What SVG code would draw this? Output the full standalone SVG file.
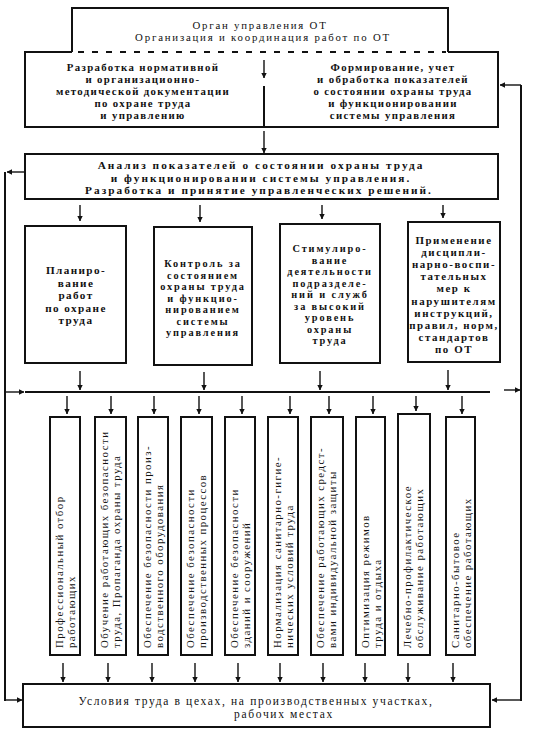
<svg xmlns="http://www.w3.org/2000/svg" width="533" height="729" viewBox="0 0 533 729">
<defs>
<marker id="ah" viewBox="0 0 8 8" refX="7.5" refY="4" markerWidth="4" markerHeight="4.5" markerUnits="strokeWidth" orient="auto">
<path d="M0,0 L8,4 L0,8 z" fill="#111"/>
</marker>
<style>
.box{fill:#fff;stroke:#111;stroke-width:2}
.ln{fill:none;stroke:#111;stroke-width:2}
.arr{fill:none;stroke:#111;stroke-width:1.4;marker-end:url(#ah)}
.t{font-family:"Liberation Serif","Times New Roman",serif;fill:#111}
.b{font-weight:bold}
.c{text-anchor:middle}
.top{font-size:10.8px;letter-spacing:1.8px}
.doc{font-size:10.8px;letter-spacing:1.35px}
.an{font-size:11.3px;letter-spacing:2.05px}
.p1{font-size:11.2px;letter-spacing:1.4px}
.p2{font-size:10.3px;letter-spacing:1.88px}
.p4{font-size:10.9px;letter-spacing:1.57px}
.v{font-size:10.8px;letter-spacing:1.47px}
.bot{font-size:11.5px;letter-spacing:1.66px}
</style>
</defs>
<rect width="533" height="729" fill="#fff"/>

<g id="connectors">
<path class="arr" d="M264,60 V78"/>
<path class="arr" d="M264,131 V153"/>
<path class="arr" d="M80,205 V221"/>
<path class="arr" d="M200,205 V222"/>
<path class="arr" d="M322,205 V219"/>
<path class="arr" d="M443,205 V218"/>
<path class="arr" d="M80,371 V390"/>
<path class="arr" d="M204,372 V390"/>
<path class="arr" d="M320,371 V390"/>
<path class="arr" d="M448,370 V390"/>
<path class="ln" d="M25,392 H490"/>
<path class="arr" d="M67,396 V414"/>
<path class="arr" d="M111,396 V414"/>
<path class="arr" d="M154,396 V414"/>
<path class="arr" d="M199,396 V414"/>
<path class="arr" d="M242,396 V414"/>
<path class="arr" d="M290,396 V414"/>
<path class="arr" d="M329,396 V414"/>
<path class="arr" d="M373,396 V414"/>
<path class="arr" d="M416,396 V411"/>
<path class="arr" d="M462,396 V414"/>
<path class="arr" d="M63,663 V682"/>
<path class="arr" d="M108,663 V682"/>
<path class="arr" d="M152,663 V682"/>
<path class="arr" d="M195,663 V682"/>
<path class="arr" d="M238,663 V682"/>
<path class="arr" d="M280,663 V682"/>
<path class="arr" d="M323,663 V682"/>
<path class="arr" d="M365,663 V682"/>
<path class="arr" d="M408,663 V682"/>
<path class="arr" d="M453,663 V682"/>
<path class="ln" d="M5,172 V701"/>
<path class="arr" d="M25,172 H7"/>
<path class="arr" d="M5,392 H24"/>
<path class="arr" d="M5,700 H22"/>
<path class="ln" d="M521,85 V701"/>
<path class="arr" d="M521,85 H500"/>
<path class="arr" d="M504,390 H520"/>
<path class="arr" d="M521,700 H492"/>
</g>

<g id="n-organ">
<path class="ln" d="M72,52 V8 H448 V52"/>
<path class="ln" d="M78,52 H446" stroke-dasharray="6,8"/>
<text class="t top c" x="260" y="29">Орган управления ОТ</text>
<text class="t top c" x="263" y="41">Организация и координация работ по ОТ</text>
</g>

<g id="n-docs">
<path class="ln" d="M72,52 H25 V127 H498 V52 H448"/>
<path class="ln" d="M264,86 V127"/>
<text class="t b doc c" x="143" y="71">Разработка нормативной</text>
<text class="t b doc c" x="143" y="83">и организационно-</text>
<text class="t b doc c" x="143" y="95">методической документации</text>
<text class="t b doc c" x="143" y="107">по охране труда</text>
<text class="t b doc c" x="143" y="119">и управлению</text>
</g>

<g id="n-indicators">
<text class="t b doc c" x="393" y="71">Формирование, учет</text>
<text class="t b doc c" x="393" y="83">и обработка показателей</text>
<text class="t b doc c" x="393" y="95">о состоянии охраны труда</text>
<text class="t b doc c" x="393" y="107">и функционировании</text>
<text class="t b doc c" x="393" y="119">системы управления</text>
</g>

<g id="n-analysis">
<rect class="box" x="25" y="154" width="473" height="45"/>
<text class="t b an c" x="261" y="169">Анализ показателей о состоянии охраны труда</text>
<text class="t b an c" x="261" y="181.5">и функционировании системы управления.</text>
<text class="t b an c" x="259" y="194">Разработка и принятие управленческих решений.</text>
</g>

<g id="n-plan">
<rect class="box" x="25" y="226" width="101" height="137"/>
<text class="t b p1 c" x="76" y="274">Планиро-</text>
<text class="t b p1 c" x="76" y="286.5">вание</text>
<text class="t b p1 c" x="76" y="299">работ</text>
<text class="t b p1 c" x="76" y="311.5">по охране</text>
<text class="t b p1 c" x="76" y="324">труда</text>
</g>

<g id="n-control">
<rect class="box" x="154" y="227" width="98" height="138"/>
<text class="t b p2 c" x="203" y="267">Контроль за</text>
<text class="t b p2 c" x="203" y="278.5">состоянием</text>
<text class="t b p2 c" x="203" y="290">охраны труда</text>
<text class="t b p2 c" x="203" y="301.5">и функцио-</text>
<text class="t b p2 c" x="203" y="313">нированием</text>
<text class="t b p2 c" x="203" y="324.5">системы</text>
<text class="t b p2 c" x="203" y="336">управления</text>
</g>

<g id="n-stimul">
<rect class="box" x="280" y="224" width="100" height="139"/>
<text class="t b p2 c" x="330" y="252">Стимулиро-</text>
<text class="t b p2 c" x="330" y="263.5">вание</text>
<text class="t b p2 c" x="330" y="275">деятельности</text>
<text class="t b p2 c" x="330" y="286.5">подразделе-</text>
<text class="t b p2 c" x="330" y="298">ний и служб</text>
<text class="t b p2 c" x="330" y="309.5">за высокий</text>
<text class="t b p2 c" x="330" y="321">уровень</text>
<text class="t b p2 c" x="330" y="332.5">охраны</text>
<text class="t b p2 c" x="330" y="344">труда</text>
</g>

<g id="n-discipline">
<rect class="box" x="408" y="222" width="92" height="140"/>
<text class="t b p4 c" x="454" y="244">Применение</text>
<text class="t b p4 c" x="454" y="256.1">дисципли-</text>
<text class="t b p4 c" x="454" y="268.2">нарно-воспи-</text>
<text class="t b p4 c" x="454" y="280.3">тательных</text>
<text class="t b p4 c" x="454" y="292.4">мер к</text>
<text class="t b p4 c" x="454" y="304.5">нарушителям</text>
<text class="t b p4 c" x="454" y="316.6">инструкций,</text>
<text class="t b p4 c" x="454" y="328.7">правил, норм,</text>
<text class="t b p4 c" x="454" y="340.8">стандартов</text>
<text class="t b p4 c" x="454" y="352.9">по ОТ</text>
</g>

<g id="n-v1">
<rect class="box" x="50" y="417" width="30" height="238"/>
<text class="t v" transform="translate(63,648) rotate(-90)">Профессиональный отбор</text>
<text class="t v" transform="translate(75,648) rotate(-90)">работающих</text>
</g>
<g id="n-v2">
<rect class="box" x="95" y="417" width="31" height="238"/>
<text class="t v" transform="translate(108,648) rotate(-90)">Обучение работающих безопасности</text>
<text class="t v" transform="translate(120,648) rotate(-90)">труда, Пропаганда охраны труда</text>
</g>
<g id="n-v3">
<rect class="box" x="138" y="417" width="30" height="238"/>
<text class="t v" transform="translate(151,648) rotate(-90)">Обеспечение безопасности произ-</text>
<text class="t v" transform="translate(163,648) rotate(-90)">водственного оборудования</text>
</g>
<g id="n-v4">
<rect class="box" x="181" y="417" width="31" height="238"/>
<text class="t v" transform="translate(194,648) rotate(-90)">Обеспечение безопасности</text>
<text class="t v" transform="translate(206,648) rotate(-90)">производственных процессов</text>
</g>
<g id="n-v5">
<rect class="box" x="225" y="417" width="30" height="238"/>
<text class="t v" transform="translate(238,648) rotate(-90)">Обеспечение безопасности</text>
<text class="t v" transform="translate(250,648) rotate(-90)">зданий и сооружений</text>
</g>
<g id="n-v6">
<rect class="box" x="268" y="417" width="30" height="238"/>
<text class="t v" transform="translate(281,648) rotate(-90)">Нормализация санитарно-гигие-</text>
<text class="t v" transform="translate(293,648) rotate(-90)">нических условий труда</text>
</g>
<g id="n-v7">
<rect class="box" x="311" y="417" width="32" height="238"/>
<text class="t v" transform="translate(324,648) rotate(-90)">Обеспечение работающих средст-</text>
<text class="t v" transform="translate(336,648) rotate(-90)">вами индивидуальной защиты</text>
</g>
<g id="n-v8">
<rect class="box" x="356" y="417" width="29" height="238"/>
<text class="t v" transform="translate(369,648) rotate(-90)">Оптимизация режимов</text>
<text class="t v" transform="translate(381,648) rotate(-90)">труда и отдыха</text>
</g>
<g id="n-v9">
<rect class="box" x="398" y="414" width="32" height="241"/>
<text class="t v" transform="translate(411,648) rotate(-90)">Лечебно-профилактическое</text>
<text class="t v" transform="translate(423,648) rotate(-90)">обслуживание работающих</text>
</g>
<g id="n-v10">
<rect class="box" x="446" y="417" width="29" height="238"/>
<text class="t v" transform="translate(459,648) rotate(-90)">Санитарно-бытовое</text>
<text class="t v" transform="translate(471,648) rotate(-90)">обеспечение работающих</text>
</g>

<g id="n-conditions">
<rect class="box" x="23" y="684" width="467" height="43"/>
<text class="t bot c" x="256" y="705">Условия труда в цехах, на производственных участках,</text>
<text class="t bot c" x="284" y="718">рабочих местах</text>
</g>
</svg>
